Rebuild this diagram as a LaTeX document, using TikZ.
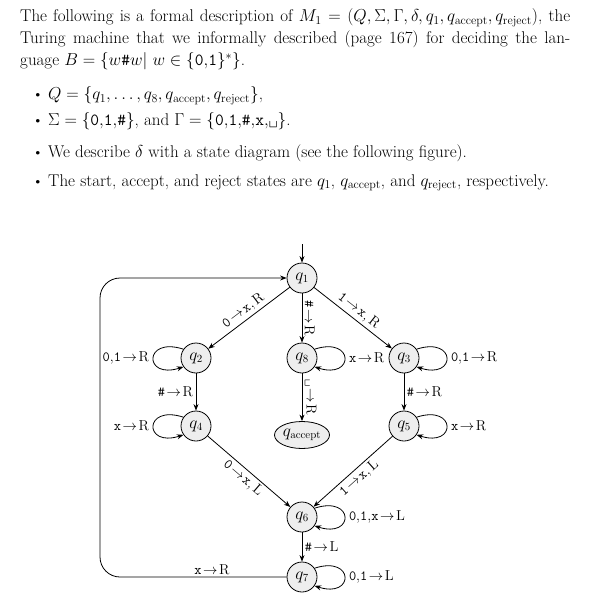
\documentclass[tikz,border=0pt]{standalone}
\usetikzlibrary{arrows.meta,shapes.geometric}
\newcommand{\mytoarrow}{\mathrel{\!\rightarrow\!}}
\newcommand{\tsym}[1]{\texttt{#1}}
\newcommand{\blanksym}{\texttt{\textvisiblespace}}
\begin{document}
\begin{tikzpicture}[x=1pt,y=-1pt,
  st/.style={circle, draw, line width=0.8pt, fill=gray!13, minimum size=30pt, inner sep=0pt, font=\fontsize{16}{18}\selectfont},
  acc/.style={ellipse, draw, line width=0.8pt, fill=gray!13, minimum width=55pt, minimum height=27pt, inner sep=0pt, font=\fontsize{16}{18}\selectfont},
  lbl/.style={font=\fontsize{14}{16}\selectfont, inner sep=2.5pt},
  llbl/.style={lbl, inner sep=4pt},
  tr/.style={-{Stealth[length=6.5pt,width=5pt]}, line width=0.8pt},
  txt/.style={anchor=base west, inner sep=0pt, font=\fontsize{17}{20}\selectfont},
  bul/.style={anchor=base, inner sep=0pt, font=\fontsize{16}{20}\selectfont}
]
\useasboundingbox (0,0) rectangle (592,599);
% text
\node[txt] (l1) at (20,22) {\makebox[550pt][s]{The following is a formal description of $M_1=(Q,\Sigma,\Gamma,\delta,q_1,q_{\mathrm{accept}},q_{\mathrm{reject}})$, the}};
\node[txt] (l2) at (20,44) {\makebox[550pt][s]{Turing machine that we informally described (page 167) for deciding the lan-}};
\node[txt] (l3) at (20,66) {guage $B=\{w\tsym{\#}w|\ w\in\{\tsym{0}{,}\tsym{1}\}^*\}$.};
\node[bul] (b1) at (38,100) {\textbullet};
\node[txt] (t1) at (48,100) {$Q=\{q_1,\ldots,q_8,q_{\mathrm{accept}},q_{\mathrm{reject}}\}$,};
\node[bul] (b2) at (38,125) {\textbullet};
\node[txt] (t2) at (48,125) {$\Sigma=\{\tsym{0}{,}\tsym{1}{,}\tsym{\#}\}$, and $\Gamma=\{\tsym{0}{,}\tsym{1}{,}\tsym{\#}{,}\tsym{x}{,}\blanksym\}$.};
\node[bul] (b3) at (38,157) {\textbullet};
\node[txt] (t3) at (48,157) {We describe $\delta$ with a state diagram (see the following figure).};
\node[bul] (b4) at (38,186) {\textbullet};
\node[txt] (t4) at (48,186) {The start, accept, and reject states are $q_1$, $q_{\mathrm{accept}}$, and $q_{\mathrm{reject}}$, respectively.};
% states
\node[st] (q1) at (302,278) {$q_1$};
\node[st] (q2) at (196,358) {$q_2$};
\node[st] (q8) at (302,358) {$q_8$};
\node[st] (q3) at (404,358) {$q_3$};
\node[st] (q4) at (196,426) {$q_4$};
\node[acc] (qa) at (302,435) {$q_{\mathrm{accept}}$};
\node[st] (q5) at (404,426) {$q_5$};
\node[st] (q6) at (302,517) {$q_6$};
\node[st] (q7) at (302,577) {$q_7$};
\coordinate (s) at (302,244);
\coordinate (c1) at (100,577);
\coordinate (c2) at (100,278);
% transitions
\draw[tr] (s) -- (q1);
\draw[tr] (q1) -- node[lbl, sloped, above] {$\tsym{0}\mytoarrow\tsym{x},\mathrm{R}$} (q2);
\draw[tr] (q1) -- node[lbl, sloped, above] {$\tsym{1}\mytoarrow\tsym{x},\mathrm{R}$} (q3);
\draw[tr] (q1) -- node[lbl, midway, rotate=-90, anchor=south] {$\tsym{\#}\mytoarrow\mathrm{R}$} (q8);
\draw[tr] (q8) -- node[lbl, midway, rotate=-90, anchor=south] {$\blanksym\mytoarrow\mathrm{R}$} (qa);
\draw[tr] (q2) -- node[lbl, left] {$\tsym{\#}\mytoarrow\mathrm{R}$} (q4);
\draw[tr] (q3) -- node[lbl, right] {$\tsym{\#}\mytoarrow\mathrm{R}$} (q5);
\draw[tr] (q4) -- node[lbl, sloped, below] {$\tsym{0}\mytoarrow\tsym{x},\mathrm{L}$} (q6);
\draw[tr] (q5) -- node[lbl, sloped, below] {$\tsym{1}\mytoarrow\tsym{x},\mathrm{L}$} (q6);
\draw[tr] (q6) -- node[lbl, right] {$\tsym{\#}\mytoarrow\mathrm{L}$} (q7);
\draw[tr, rounded corners=20pt] (q7.west) -- node[lbl, above, pos=0.4] {$\tsym{x}\mytoarrow\mathrm{R}$} (c1) -- (c2) -- (q1.west);
% loops
\draw[tr] (q2.145) .. controls +(-40,-13) and +(-40,13) .. node[llbl, left] {$\tsym{0}{,}\tsym{1}\mytoarrow\mathrm{R}$} (q2.-145);
\draw[tr] (q4.145) .. controls +(-40,-13) and +(-40,13) .. node[llbl, left] {$\tsym{x}\mytoarrow\mathrm{R}$} (q4.-145);
\draw[tr] (q8.35) .. controls +(40,-13) and +(40,13) .. node[llbl, right] {$\tsym{x}\mytoarrow\mathrm{R}$} (q8.-35);
\draw[tr] (q3.35) .. controls +(40,-13) and +(40,13) .. node[llbl, right] {$\tsym{0}{,}\tsym{1}\mytoarrow\mathrm{R}$} (q3.-35);
\draw[tr] (q5.35) .. controls +(40,-13) and +(40,13) .. node[llbl, right] {$\tsym{x}\mytoarrow\mathrm{R}$} (q5.-35);
\draw[tr] (q6.35) .. controls +(40,-13) and +(40,13) .. node[llbl, right] {$\tsym{0}{,}\tsym{1}{,}\tsym{x}\mytoarrow\mathrm{L}$} (q6.-35);
\draw[tr] (q7.35) .. controls +(40,-13) and +(40,13) .. node[llbl, right] {$\tsym{0}{,}\tsym{1}\mytoarrow\mathrm{L}$} (q7.-35);
\end{tikzpicture}
\end{document}
